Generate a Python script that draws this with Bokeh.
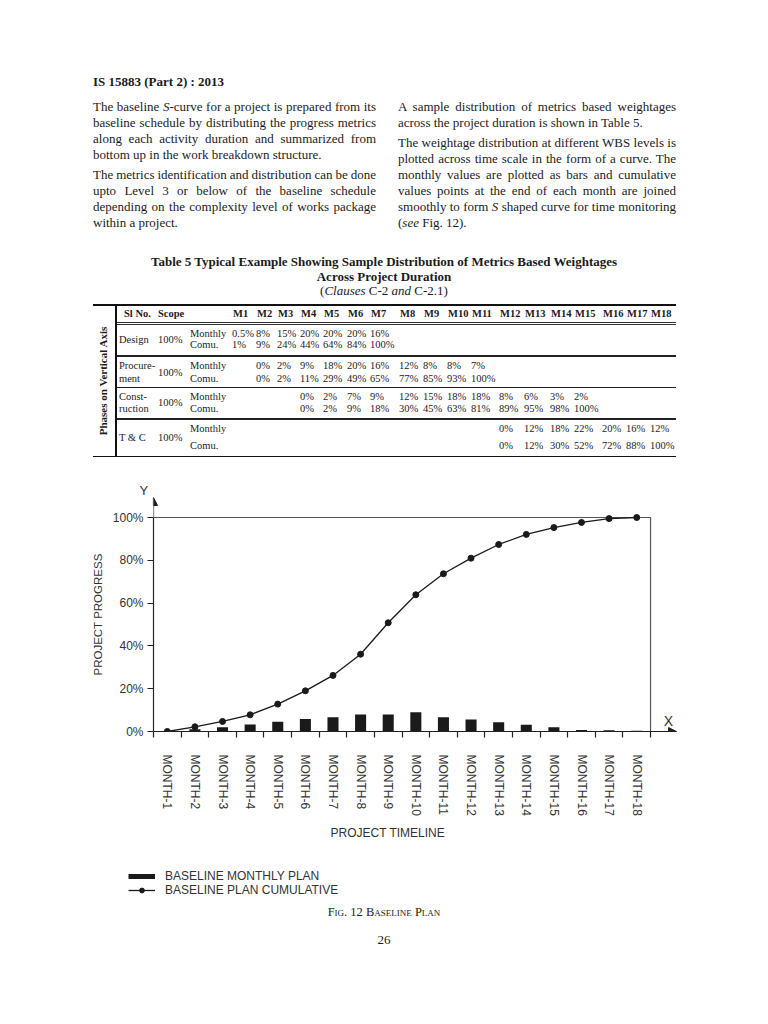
from bokeh.plotting import figure
from bokeh.models import (Div, FixedTicker, Range1d, Legend, LegendItem, Arrow,
                          NormalHead, Label, Title)
from bokeh.layouts import column
from bokeh.embed import file_html
from bokeh.resources import INLINE

# ---------------- chart data ----------------
months = ["MONTH-%d" % i for i in range(1, 19)]
monthly_plan = [0.0, 1.0, 2.0, 3.3, 4.5, 5.8, 6.7, 7.9, 7.9, 9.0, 6.7, 5.6, 4.3, 3.1, 2.0, 0.7, 0.6, 0.4]
cumulative_plan = [0.0, 2.2, 4.7, 7.8, 12.8, 19.0, 26.2, 36.1, 50.8, 63.9, 73.7, 81.0, 87.4, 92.1,
                   95.3, 97.7, 99.5, 100.0]
y_ticks = [0, 20, 40, 60, 80, 100]
y_tick_labels = ["0%", "20%", "40%", "60%", "80%", "100%"]
legend_labels = ["BASELINE MONTHLY PLAN", "BASELINE PLAN CUMULATIVE"]

# ---------------- table data ----------------
table_months = ["M%d" % i for i in range(1, 19)]
phase_names = [["Design"], ["Procure-", "ment"], ["Const-", "ruction"], ["T &amp; C"]]
phase_scope = ["100%", "100%", "100%", "100%"]
design_start = 0
design_monthly = ["0.5%", "8%", "15%", "20%", "20%", "20%", "16%"]
design_comu = ["1%", "9%", "24%", "44%", "64%", "84%", "100%"]
proc_start = 1
proc_monthly = ["0%", "2%", "9%", "18%", "20%", "16%", "12%", "8%", "8%", "7%"]
proc_comu = ["0%", "2%", "11%", "29%", "49%", "65%", "77%", "85%", "93%", "100%"]
cons_start = 3
cons_monthly = ["0%", "2%", "7%", "9%", "12%", "15%", "18%", "18%", "8%", "6%", "3%", "2%"]
cons_comu = ["0%", "2%", "9%", "18%", "30%", "45%", "63%", "81%", "89%", "95%", "98%", "100%"]
tc_start = 11
tc_monthly = ["0%", "12%", "18%", "22%", "20%", "16%", "12%"]
tc_comu = ["0%", "12%", "30%", "52%", "72%", "88%", "100%"]

# ---------------- page text (top) ----------------
INK = "#1c1c1c"


def txt(x, yc, s, size=13, weight="normal", lh=16, extra=""):
    return ('<div style="position:absolute;left:%.1fpx;top:%.1fpx;font-size:%spx;line-height:%dpx;'
            'font-weight:%s;white-space:nowrap;%s">%s</div>'
            % (x, yc - lh / 2, size, lh, weight, extra, s))


def jline(x, yc, w, s, last=False):
    al = "left" if last else "justify"
    ws = "0px" if last else "-1.5px"
    return ('<div style="position:absolute;left:%.1fpx;top:%.1fpx;width:%dpx;font-size:13px;line-height:16px;'
            'text-align:%s;text-align-last:%s;word-spacing:%s;">%s</div>'
            % (x, yc - 8, w, al, al, ws, s))


def hline(x0, x1, y, t=1.0, c="#222"):
    return ('<div style="position:absolute;left:%.1fpx;top:%.1fpx;width:%.1fpx;height:%.1fpx;background:%s;"></div>'
            % (x0, y - t / 2, x1 - x0, t, c))


def vline(x, y0, y1, t=1.0, c="#222"):
    return ('<div style="position:absolute;left:%.1fpx;top:%.1fpx;width:%.1fpx;height:%.1fpx;background:%s;"></div>'
            % (x - t / 2, y0, t, y1 - y0, c))


parts = []
parts.append(txt(93, 82, "IS 15883 (Part 2) : 2013", size=13, weight="bold"))

left_lines = [
    "The baseline <i>S</i>-curve for a project is prepared from its",
    "baseline schedule by distributing the progress metrics",
    "along each activity duration and summarized from",
    "bottom up in the work breakdown structure.",
    "The metrics identification and distribution can be done",
    "upto Level 3 or below of the baseline schedule",
    "depending on the complexity level of works package",
    "within a project.",
]
left_y = [107, 123, 139, 155, 175, 191, 207, 223]
left_last = [False, False, False, True, False, False, False, True]
for s, y, l in zip(left_lines, left_y, left_last):
    parts.append(jline(93, y, 283, s, l))

right_lines = [
    "A sample distribution of metrics based weightages",
    "across the project duration is shown in Table 5.",
    "The weightage distribution at different WBS levels is",
    "plotted across time scale in the form of a curve. The",
    "monthly values are plotted as bars and cumulative",
    "values points at the end of each month are joined",
    "smoothly to form <i>S</i> shaped curve for time monitoring",
    "(<i>see</i> Fig. 12).",
]
right_y = [107, 123, 143, 159, 175, 191, 207, 223]
right_last = [False, True, False, False, False, False, False, True]
for s, y, l in zip(right_lines, right_y, right_last):
    parts.append(jline(398, y, 278, s, l))

# table title
parts.append(txt(384, 262, "Table 5 Typical Example Showing Sample Distribution of Metrics Based Weightages",
                 size=13, weight="bold", extra="transform:translateX(-50%);"))
parts.append(txt(384, 277, "Across Project Duration", size=13, weight="bold",
                 extra="transform:translateX(-50%);"))
parts.append(txt(384, 291, "(<i>Clauses</i> C-2 <i>and</i> C-2.1)", size=13,
                 extra="transform:translateX(-50%);"))

# table
col_x = [232, 256, 277, 300, 323, 347, 370, 399, 423, 447, 471, 499, 524, 550, 574, 602, 626, 650]
TS = 10.5
parts.append(hline(93, 676, 305, 1.8, "#111"))
parts.append(hline(116, 676, 322, 1.0, "#333"))
parts.append(hline(116, 676, 324.5, 1.0, "#333"))
parts.append(hline(116, 676, 356, 1.3, "#222"))
parts.append(hline(116, 676, 387.5, 1.3, "#222"))
parts.append(hline(116, 676, 419, 1.3, "#222"))
parts.append(hline(93, 676, 456.5, 1.8, "#111"))
parts.append(vline(116, 305, 457, 2.0, "#111"))

parts.append(txt(124, 314, "Sl No.", size=TS, weight="bold", lh=12))
parts.append(txt(158, 314, "Scope", size=TS, weight="bold", lh=12))
for mx, m in zip(col_x, table_months):
    parts.append(txt(mx + 1, 314, m, size=TS, weight="bold", lh=12))

parts.append('<div style="position:absolute;left:43px;top:375px;width:120px;height:12px;font-size:11px;'
             'line-height:12px;font-weight:bold;text-align:center;white-space:nowrap;'
             'transform:rotate(-90deg);transform-origin:50% 50%;">Phases on Vertical Axis</div>')

row_y = [(334, 345), (366, 379), (397, 409), (429, 446)]
row_data = [(design_start, design_monthly, design_comu), (proc_start, proc_monthly, proc_comu),
            (cons_start, cons_monthly, cons_comu), (tc_start, tc_monthly, tc_comu)]
for (ym, yc), names, scope, (st, mon, com) in zip(row_y, phase_names, phase_scope, row_data):
    mid = (ym + yc) / 2
    if len(names) == 1:
        parts.append(txt(119, mid, names[0], size=TS, lh=12))
    else:
        parts.append(txt(119, ym, names[0], size=TS, lh=12))
        parts.append(txt(119, yc, names[1], size=TS, lh=12))
    parts.append(txt(158, mid, scope, size=TS, lh=12))
    parts.append(txt(190, ym, "Monthly", size=TS, lh=12))
    parts.append(txt(190, yc, "Comu.", size=TS, lh=12))
    for k, v in enumerate(mon):
        parts.append(txt(col_x[st + k], ym, v, size=TS, lh=12))
    for k, v in enumerate(com):
        parts.append(txt(col_x[st + k], yc, v, size=TS, lh=12))

top_html = ('<div style="position:relative;width:768px;height:470px;font-family:\'Liberation Serif\',serif;'
            'color:%s;">%s</div>' % (INK, "".join(parts)))
top_div = Div(text=top_html, width=768, height=470, margin=0)

# ---------------- chart ----------------
SANS = "Liberation Sans"
GRAY = "#333333"
DARK = "#1a1a1a"
n = len(months)
xs = list(range(1, n + 1))
x_end = 19.44
y_end = 109.35

p = figure(width=768, height=390, x_range=Range1d(0.5, x_end), y_range=Range1d(0, y_end),
           output_backend="svg", toolbar_location=None,
           min_border_left=153, min_border_right=92, min_border_top=27, min_border_bottom=129)
p.outline_line_color = None
p.xgrid.visible = False
p.ygrid.visible = False
p.background_fill_color = "white"
p.border_fill_color = "white"
p.frame_align = False

p.title.text = "Y"
p.title.align = "left"
p.title.offset = -14
p.title.standoff = 0
p.title.text_font = SANS
p.title.text_font_style = "normal"
p.title.text_font_size = "13px"
p.title.text_color = GRAY

bars = p.vbar(x=xs, top=monthly_plan, width=0.4, fill_color=DARK, line_color=None)
top_val = max(cumulative_plan)
p.line([0.5, n + 0.5, n + 0.5], [top_val, top_val, 0], line_color="#555555", line_width=1.2)
cl = p.line(xs, cumulative_plan, line_color=DARK, line_width=1.3)
cs = p.scatter(xs, cumulative_plan, size=6, marker="circle", fill_color=DARK, line_color=DARK)

# axes
xa = p.xaxis[0]
xa.ticker = FixedTicker(ticks=xs, minor_ticks=[i + 0.5 for i in range(0, n + 1)])
xa.major_label_overrides = {x: m for x, m in zip(xs, months)}
xa.major_label_orientation = "vertical"
xa.major_tick_out = 0
xa.major_tick_in = 0
xa.minor_tick_out = 6
xa.minor_tick_in = 0
xa.minor_tick_line_color = "#222"
xa.minor_tick_line_width = 1.2
xa.major_label_standoff = 17
xa.major_label_text_font = SANS
xa.major_label_text_font_size = "12px"
xa.major_label_text_color = GRAY
xa.axis_line_color = "#222"
xa.axis_line_width = 1.2

p.add_layout(Title(text="PROJECT TIMELINE", align="left", offset=177, standoff=10,
                   text_font=SANS, text_font_style="normal", text_font_size="12px",
                   text_color=GRAY), "below")

ya = p.yaxis[0]
ya.bounds = (0, top_val)
ya.ticker = FixedTicker(ticks=y_ticks, minor_ticks=[])
ya.major_label_overrides = {t: s for t, s in zip(y_ticks, y_tick_labels)}
ya.major_tick_out = 6
ya.major_tick_in = 0
ya.major_tick_line_color = "#222"
ya.major_tick_line_width = 1.2
ya.minor_tick_out = 0
ya.minor_tick_in = 0
ya.major_label_standoff = 4
ya.major_label_text_font = SANS
ya.major_label_text_font_size = "12px"
ya.major_label_text_color = GRAY
ya.axis_line_color = "#222"
ya.axis_line_width = 1.2
ya.axis_label = "PROJECT PROGRESS"
ya.axis_label_text_font = SANS
ya.axis_label_text_font_style = "normal"
ya.axis_label_text_font_size = "11.5px"
ya.axis_label_text_color = GRAY
ya.axis_label_standoff = 6

# arrow heads
p.add_layout(Arrow(end=NormalHead(size=8, fill_color="#222", line_color="#222"),
                   x_start=0.5, y_start=top_val, x_end=0.5, y_end=y_end, line_color="#222", line_width=1.2))
p.add_layout(Arrow(end=NormalHead(size=8, fill_color="#222", line_color="#222"),
                   x_start=n + 0.5, y_start=0, x_end=x_end, y_end=0, line_color="#222", line_width=1.2))
p.add_layout(Label(x=x_end, y=0, text="X", x_offset=-8, y_offset=11, text_align="center",
                   text_baseline="middle", text_font=SANS, text_font_size="14px", text_color=GRAY))

# ---------------- legend (own strip) ----------------
lg = figure(width=768, height=40, x_range=Range1d(0, 1), y_range=Range1d(0, 1),
            x_axis_type=None, y_axis_type=None, output_backend="svg", toolbar_location=None,
            min_border_left=128, min_border_top=9, min_border_right=0, min_border_bottom=0)
lg.frame_align = False
lg.outline_line_color = None
lg.xgrid.visible = False
lg.ygrid.visible = False
lg.background_fill_color = "white"
lg.border_fill_color = "white"
lg_bar = lg.line([-5, -4], [-5, -5], line_color=DARK, line_width=5)
lg_line = lg.line([-5, -4], [-5, -5], line_color=DARK, line_width=1.3)
lg_pt = lg.scatter([-5], [-5], size=6, marker="circle", fill_color=DARK, line_color=DARK)
legend = Legend(items=[LegendItem(label=legend_labels[0], renderers=[lg_bar]),
                       LegendItem(label=legend_labels[1], renderers=[lg_line, lg_pt])],
                location="top_left", orientation="vertical", padding=0, margin=0, spacing=0,
                glyph_width=27, glyph_height=12, label_height=12, label_standoff=10,
                border_line_color=None, background_fill_alpha=0,
                label_text_font=SANS, label_text_font_size="12px", label_text_color=GRAY)
lg.add_layout(legend, "center")

# ---------------- caption ----------------
cap_html = ('<div style="position:relative;width:768px;height:100px;font-family:\'Liberation Serif\',serif;color:%s;">'
            '<div style="position:absolute;left:0;width:768px;top:4px;text-align:center;font-size:12.5px;'
            'line-height:16px;font-variant:small-caps;">Fig. 12 Baseline Plan</div>'
            '<div style="position:absolute;left:0;width:768px;top:32px;text-align:center;font-size:13px;'
            'line-height:16px;">26</div></div>' % INK)
cap_div = Div(text=cap_html, width=768, height=100, margin=0)

layout = column(top_div, p, lg, cap_div, spacing=0)
open("out.html", "w").write(file_html(layout, INLINE))
